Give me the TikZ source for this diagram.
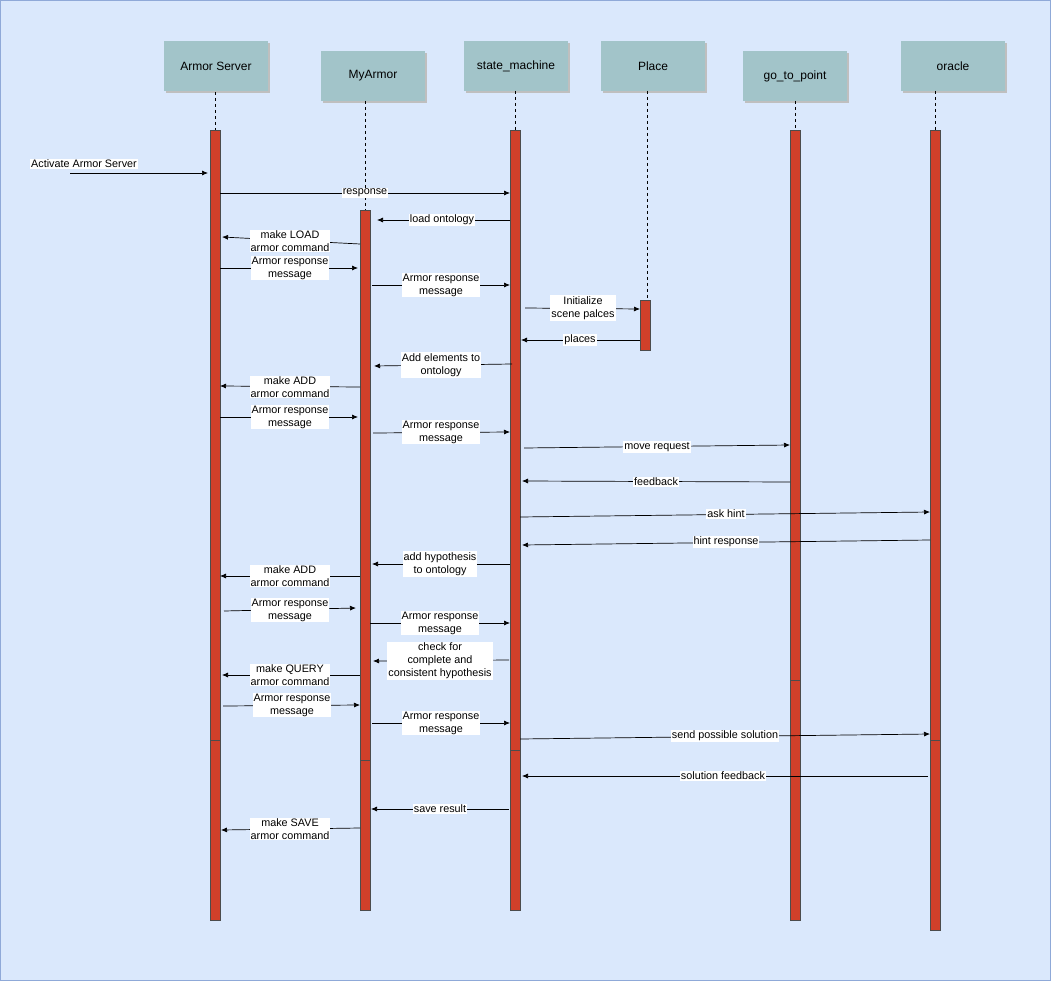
\documentclass[tikz,border=0pt]{standalone}
\usepackage{fontspec}
\setmainfont{Liberation Sans}
\usetikzlibrary{arrows.meta}
\definecolor{bg}{HTML}{DAE8FC}
\definecolor{bgline}{HTML}{8FA9D8}
\definecolor{hdr}{HTML}{A2C4C9}
\definecolor{bar}{HTML}{D0402A}
\begin{document}
\begin{tikzpicture}[x=1pt,y=-1pt,font=\fontsize{10.8}{13}\selectfont,
 hdrbox/.style={fill=hdr,minimum width=104pt,minimum height=50pt,inner sep=0pt,font=\fontsize{12}{13}\selectfont},
 barbox/.style={fill=bar,draw=black!70,line width=0.5pt},
 life/.style={dashed,line width=0.6pt},
 msg/.style={-{Latex[length=6pt,width=5pt]},line width=0.7pt},
 lab/.style={fill=white,inner sep=1pt,align=center}]
\useasboundingbox (0,0) rectangle (1051,981);
\fill[bg] (0,0) rectangle (1051,981);
\draw[bgline,line width=0.6pt] (0.5,0.5) rectangle (1050.5,980.5);
% headers
\foreach \n/\t/\x/\y in {hA/Armor Server/216/66, hM/MyArmor/373/76, hS/state\_machine/516/66, hP/Place/653/66, hG/go\_to\_point/795/76, hO/oracle/953/66}{
 \fill[black!25] (\x-50,\y-23) rectangle (\x+54,\y+27);
 \node[hdrbox] (\n) at (\x,\y) {\t};
}
% lifelines
\draw[life] (215,92) -- (215,130);
\draw[life] (365,101) -- (365,210);
\draw[life] (515,91) -- (515,130);
\draw[life] (647,91) -- (647,300);
\draw[life] (795,101) -- (795,130);
\draw[life] (935,91) -- (935,130);
% bars
\draw[barbox] (210,130) rectangle (220,740); \draw[barbox] (210,740) rectangle (220,920);
\draw[barbox] (360,210) rectangle (370,760); \draw[barbox] (360,760) rectangle (370,910);
\draw[barbox] (510,130) rectangle (520,750); \draw[barbox] (510,750) rectangle (520,910);
\draw[barbox] (640,300) rectangle (650,350);
\draw[barbox] (790,130) rectangle (800,680); \draw[barbox] (790,680) rectangle (800,920);
\draw[barbox] (930,130) rectangle (940,740); \draw[barbox] (930,740) rectangle (940,930);
% messages
\draw[msg] (70,173) -- (208,173);
\node[lab] at (84,164) {Activate Armor Server};
\foreach \xa/\ya/\xb/\yb/\lx/\ly/\t in {
 220/193/510/193/365/193/response,
 510/220/377/220/442/220/load ontology,
 360/244/222/237/290/241/{make LOAD\\armor command},
 220/268/358/268/290/268/{Armor response\\message},
 372/285/510/285/441/285/{Armor response\\message},
 525/308/640/309/583/308/{Initialize\\scene palces},
 640/340/521/340/580/340/places,
 512/364/374/366/441/365/{Add elements to\\ontology},
 360/387/220/386/290/387/{make ADD\\armor command},
 220/417/358/417/290/417/{Armor response\\message},
 373/433/510/432/441/432/{Armor response\\message},
 524/448/790/445/657/447/move request,
 790/482/522/481/656/482/feedback,
 520/517/930/512/726/514/ask hint,
 930/540/522/545/726/542/hint response,
 510/564/372/564/440/564/{add hypothesis\\to ontology},
 360/576/220/576/290/576/{make ADD\\armor command},
 224/611/356/608/290/610/{Armor response\\message},
 370/623/510/623/440/623/{Armor response\\message},
 509/660/373/661/440/661/{check for\\complete and\\consistent hypothesis},
 360/675/222/675/290/675/{make QUERY\\armor command},
 223/706/360/705/292/705/{Armor response\\message},
 372/723/510/723/441/723/{Armor response\\message},
 520/739/930/734/725/736/send possible solution,
 928/776/522/776/723/776/solution feedback,
 509/809/371/809/440/809/save result,
 360/828/221/830/290/829/{make SAVE\\armor command}}{
 \draw[msg] (\xa,\ya) -- (\xb,\yb);
 \node[lab] at (\lx,\ly) {\t};
}
\end{tikzpicture}
\end{document}
